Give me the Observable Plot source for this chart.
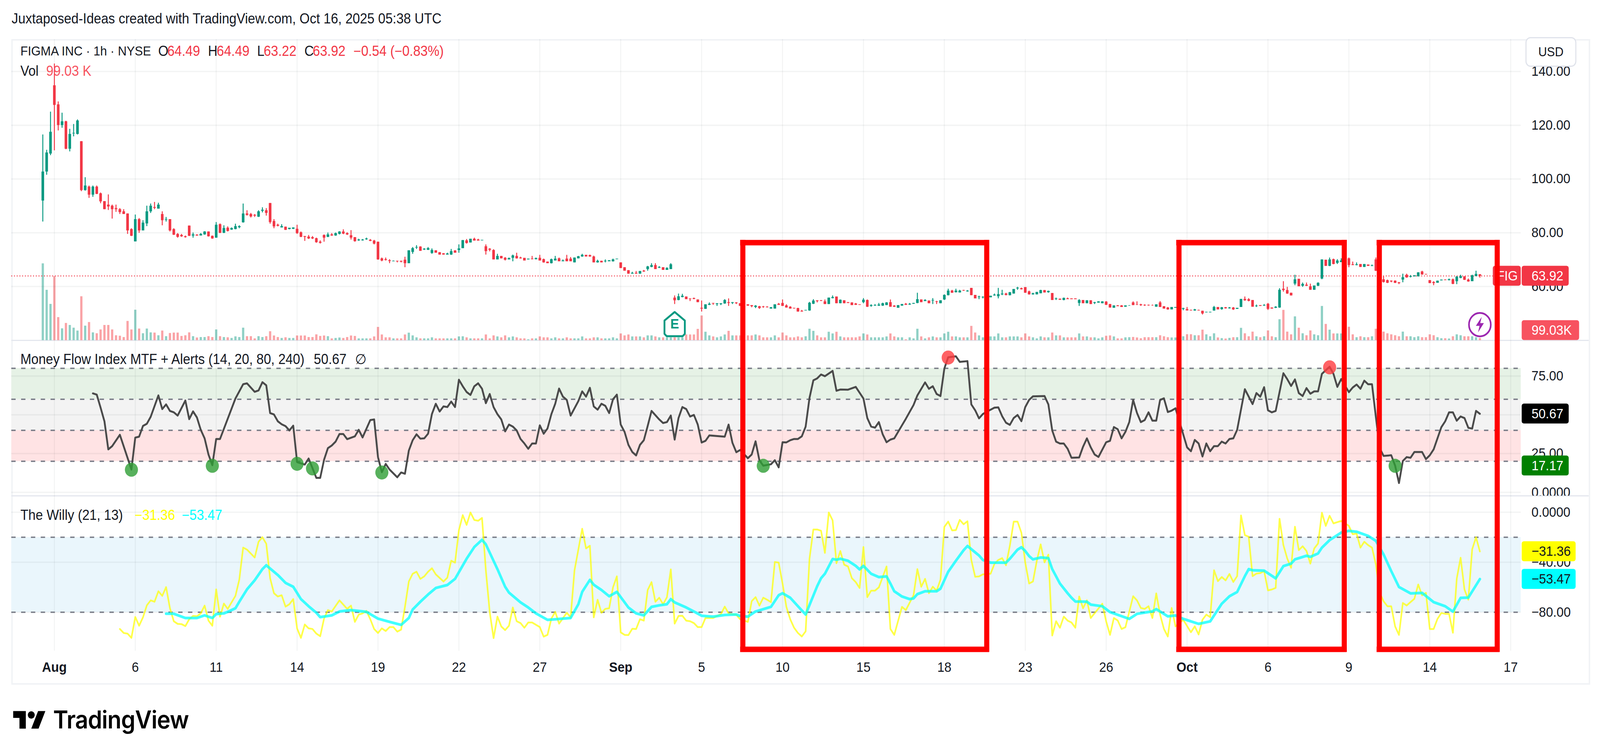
<!DOCTYPE html>
<html>
<head>
<meta charset="utf-8">
<script src="https://cdn.jsdelivr.net/npm/d3@7"></script>
<script src="https://cdn.jsdelivr.net/npm/@observablehq/plot@0.6"></script>
<style>
html,body{margin:0;padding:0;background:#fff;overflow:hidden}
#page{position:absolute;left:0;top:0;width:4400px;height:1933px;overflow:hidden;font-family:"Liberation Sans",Arial,sans-serif;color:#131722;background:#fff;transform-origin:0 0}
#page svg.pane{position:absolute;left:0}
.t{position:absolute;font-size:36px;line-height:44px;white-space:pre}
.chrome{position:absolute}
</style>
</head>
<body>
<div id="page"></div>
<script>
// ---------- candles, one row per hourly bar: open, high, low, close ----------
const ohlcAug = [
[91.9,116.5,84.1,102.7],[102.7,110.8,101.5,109.8],[109.4,125,108.8,117.5],[134.8,142.9,110.6,127.5],[127.7,128.8,118,120],
[120,124.6,119,121.4],[121.4,121.6,111,111.2],[111.2,118.6,110.2,116.7],[116.9,120.4,115.8,117.1],[116.7,122.1,116.5,121.7],
[114,114,95.4,95.8],[95.8,100.6,95.6,97.5],[97.1,97.5,92.9,94.1],[94.1,97.5,93.3,97.1],[97.1,97.5,94.3,94.4],
[94.6,94.9,90.9,91.6],[91.7,91.7,88.7,88.7],[90.4,94.2,88.4,89.7],[90,90.4,85.2,88.7],[89.1,90.4,87.7,88.7],
[88.7,89.1,86.9,87.6],[87.9,88.7,86.9,86.9],[87.1,87.1,79.5,80.8],[81.3,81.6,78.7,78.8],[76.7,86.7,76.7,85],
[85,85.4,79.9,80.8],[80.8,84.6,80.8,83.7],[83.4,90,82.4,87.9],[87.9,90.8,87.3,90],[89.5,91.4,88.7,89.2],
[88.9,91.1,88.9,90.4],[86.9,87.9,82.7,84.6],[84.8,85.8,84.1,85],[85,85,80.4,80.8],[81.3,81.6,79.1,79.2],
[79.5,79.8,78.1,78.4],[79.1,79.5,78.4,78.6],[78.6,78.9,78.1,78.3],[82.6,82.6,78.7,78.8],[78.9,80,78.1,79.3],
[79.2,79.4,78.8,78.9],[78.9,79.8,78.9,79.5],[79.3,80.5,79.2,80.4],[80.4,80.4,78.5,78.6],[78.8,78.9,77.7,77.8],
[78.1,83.9,78.1,82.9],[83.1,83.4,79.8,79.9],[79.9,82.7,79.8,81.7],[81.8,82.3,80.4,80.6],[81.1,81.9,81,81.7],
[81.3,83.3,81.2,82.4],[82,82.7,81.6,82.4],[83.8,90.8,83.7,87.1],[87.1,88.3,86.3,86.6],[86.9,87.3,85.6,86],
[86.6,86.9,85.8,86.3],[85.9,88.3,85.8,87.9],[88.1,89.4,87.5,88.5],[88.3,89.1,86.3,87.3],[91,91,83.3,83.9],
[84.3,85,81.6,82.3],[82.9,83.3,82.3,82.5],[81.9,83.1,81.9,82.4],[82.2,82.2,81,81],[81.3,81.8,81.2,81.8],
[81.4,81.9,81.3,81.9],[81.4,82.9,79.5,79.8],[80.1,80.4,78.3,78.4],[78.7,78.7,76.9,78.4],[78.5,79.1,77.6,77.8],
[78.3,78.7,77.6,77.8],[77.9,78.1,76.2,76.4],[76.6,77.1,75.9,76.2],[79.1,79.3,76.6,78.1],[78.4,80,78.3,79.3],
[79.3,79.8,78.8,78.9],[78.9,80,78.8,79.8],[79.5,80.5,79.3,80.4],[80.4,81.2,79.4,79.6],[79.8,80.1,79.1,79.3],
[79,80.9,77.4,78.1],[78.3,78.3,76.6,76.8],[77.1,77.7,76.9,77.4],[77.1,77.6,77,77.4],[77.5,78.1,77.3,77.8],
[77.3,77.6,76.8,76.9],[77,77.3,75.6,75.9],[76.6,76.6,69.9,70],[70.4,70.7,69.3,69.6],[70.1,70.7,69.6,69.8],
[69.7,70.1,68.6,69.4],[69.3,69.6,69.3,69.5],[69.5,69.5,68.9,69.3],[69.5,69.5,68.9,69.2],[69.9,71,67.1,68.6],
[68.6,73.4,68.6,73.4],[72.8,74.6,72.1,74.2],[74.4,75.3,73.9,74.6],[74.8,74.9,73.2,73.2],[73.7,74.2,73.5,74],
[73.6,74.6,73.5,74.2],[72.4,74.1,72.1,73.5],[73.4,73.4,72.5,72.5],[72.7,72.7,71.8,71.8],[72.3,72.3,71.8,71.8],
[71.8,72.5,71.8,72.2],[71.8,73.9,71.7,73.1],[73.3,73.5,72.5,72.5],[73.5,75.6,72.5,74.1],[74.2,77.2,74.2,77.2],
[77.1,77.6,75.9,76.1],[76.3,77.7,76.3,77.7],[77.7,78.1,77,77],[77.4,77.7,77,77],[77.1,77.3,77.1,77.3],
[74.9,75.6,71.8,73.1],[74,74.2,73,73.6],[73.5,73.8,70,70],[70,72.1,70,71.3],[71.3,71.3,70.4,70.4],
[70.6,70.9,69.6,69.9],[70,70.7,70,70.5],[70.6,71.8,69.3,71.5],[71.3,72.5,70.3,70.4],[70.7,71,70.3,70.4],
[70.6,70.6,69.6,69.6],[70,70.3,70,70.3],[70.3,71.3,70,70.1],[70.1,70.7,70,70.5],[70.6,71.7,69.6,69.6],
[70.1,70.3,68.8,68.9],[69.2,69.2,68.6,68.6],[68.6,70.3,68.5,70.1],[69.6,71.3,69.6,70.3],[70.4,70.7,69.3,69.3],
[69.3,70,69.3,69.6],[70.3,71.7,69.3,69.3],[70.3,70.9,69.3,69.3],[68.9,70.7,68.9,70.7],[70.4,71.3,70.4,71.2],
[71.1,72.1,71,71.7],[71.7,71.7,71.1,71.1],[71.6,71.8,71,71.1],[71.1,71.4,68.9,68.9],[68.9,69.9,68.8,69.5],
[69.5,69.5,68.9,68.9],[69.3,70,68.9,69.5],[69.3,69.7,69.3,69.7],[69.3,70.3,69.2,70],[70.1,70.3,70.1,70.3]
];
const ohlcSep = [
[68.9,68.9,66.8,66.8],[67.1,67.1,65.8,65.8],[66,66,64.7,64.7],[64.7,65.4,64.7,65],[65,65.7,64.7,64.7],
[64.7,65.7,64.7,65.7],[65.8,66.1,65.4,65.5],[66.4,67.6,65.8,67.4],[67.2,68.6,67.1,67.9],[67.9,68.6,66.4,66.4],
[66.9,67.5,66.8,67.2],[67.1,67.1,66.1,66.1],[66.1,67.1,66.1,66.8],[66.4,68.6,66.4,68.2],[55.8,56.6,53.4,54.8],
[54.9,57.3,54.8,56.3],[56,57.2,55.9,56.5],[56.2,56.2,55.2,55.2],[55.5,55.5,54.5,55.3],[55.6,55.8,55.2,55.3],
[55.1,55.1,54.1,54.1],[52,54.7,50.6,51.7],[51.6,53.3,51.6,53.3],[53.1,54,53,53.5],[53.8,53.8,53.1,53.6],
[53.4,53.7,52.7,53.7],[53.4,53.7,53,53.7],[53.6,55.2,53.5,54.9],[54.1,55.5,52.7,53.8],[53.8,54.1,53.4,54.1],
[54,54.1,53.4,53.7],[53.7,53.7,52.7,52.7],[52.8,53.3,52.7,53.2],[53.3,53.3,52.8,52.8],[53,53,52.2,52.6],
[52.3,53,51.9,52.8],[52.6,52.7,51.6,51.9],[52.5,52.7,52,52.3],[52.4,52.6,52.1,52.2],[51.7,52.3,51.7,52.2],
[51.7,53.3,51.7,53.3],[53.5,53.8,53.1,53.1],[53.8,55.1,52.7,52.7],[52.9,53.3,52.1,52.1],[52.4,52.6,51.7,51.7],
[52,52,51.7,51.8],[51.9,52,50.6,50.6],[50.9,51.2,50.6,50.6],[51,51.2,51,51.2],[51,54.2,50.9,53.9],
[53.5,55.2,53.4,54.7],[54.8,54.8,54,54.5],[54.8,54.9,54.5,54.6],[54.4,55.1,53.4,53.4],[53.4,55.8,53.4,55.8],
[55.6,56.6,55.5,56],[56.2,56.2,53.7,53.7],[53.7,55.1,53.7,55],[54.8,54.8,53.7,53.7],[54.1,54.1,53.8,53.8],
[54,54,53,53],[53.6,53.8,53.1,53.1],[53.3,53.3,53.1,53.1],[54.1,55.6,53.7,55],[54.9,55.1,52.3,52.4],
[52.7,53.3,52.4,53],[52.8,53.4,52.7,53],[52.8,53.8,52.7,53.2],[52.8,53.9,52.7,53.7],[53,54.1,53,54],
[54.1,55.1,52.4,52.4],[52.8,53,52.3,52.4],[52,53,52,53],[52.8,53.4,52.8,53.4],[53.5,53.8,53.1,53.1],
[53.2,53.8,53.1,53.5],[53.5,53.8,53.5,53.8],[53.8,57.6,53.7,55.2],[55.1,55.1,54.1,54.1],[54.5,55.2,54.5,54.9],
[54.7,54.7,53.7,53.7],[54.7,55.6,53.4,54.9],[54.4,54.6,53.4,54.2],[53.7,54.8,53.7,54.8],[55.1,57,54.9,56.8],
[56.7,59.1,56.6,58.4],[58.4,58.7,57.6,57.6],[57.8,59.1,57.7,58.4],[57.7,58.7,57.7,58.4],[58.6,58.7,58.3,58.4],
[58.1,58.6,58,58.4],[59.4,59.4,56.7,56.7],[56.8,56.8,55.5,55.5],[56,56.5,55.2,56.2],[55.9,56.3,55.5,56.1],
[56.1,56.6,55.9,56.5],[55.9,56.5,55.9,56.5],[56.6,57.3,56.5,56.9],[56.3,59.4,55.5,57.1],[57,58.7,56.7,57.3],
[57.3,57.6,56.6,56.8],[56.7,57.9,56.6,57.8],[57.3,59,57.3,59],[59.2,59.8,58.7,59.5],[59.3,59.5,58.8,58.9],
[59.7,59.7,57.6,57.6],[58.1,58.4,56.9,57],[57,57.6,56.9,57.4],[57,57.9,57,57.9],[57.4,58.7,57.4,58.6],
[58.6,58.6,57.7,57.7],[57.8,58.4,57.6,58.3],[57.5,57.5,54.9,54.9],[55.3,55.8,54.9,55.5],[55.4,55.4,55,55],
[54.9,55.8,54.8,55.7],[55.5,55.8,55.2,55.2],[55.5,55.5,55.2,55.2],[55.5,55.5,55.2,55.2],[53.8,55.2,52.7,54.9],
[54.9,54.9,53.7,53.7],[53.7,54.8,53.7,54.8],[54.8,54.8,53.4,53.4],[53.8,54.2,53.4,54.1],[53.9,54.4,53.9,54.4],
[53.7,54.4,53.7,54.4],[54.3,54.5,53.1,53.1],[53.4,53.4,52.1,52.1],[52,52.9,52,52.9],[52.9,53,52.6,52.6],
[52.9,53,52.3,52.3],[52.4,52.9,52.4,52.9],[52.8,53,52.8,52.9],[54,54.4,53,53],[53.3,54.4,53,53.2],
[53.3,53.5,52.7,53],[53.1,53.3,52.7,52.9],[53.1,53.2,52.8,52.9],[53,53.2,52.8,52.9],[52.4,53.3,52.4,53.3],
[54,54.5,52.3,52.3],[52.6,52.6,51.7,51.7],[52.1,52.3,51.3,51.4],[51.4,52.3,51.4,52.3],[52,52.3,52,52.3],
[52.2,52.5,52,52.4],[51.6,52,51.1,51.9]
];
const ohlcOct = [
[51.5,52.3,51,51],[51.2,51.3,51,51],[51,51.6,50.9,51.4],[51.2,51.3,51,51],[50.9,50.9,49.5,49.9],
[50.3,50.5,50.3,50.5],[50.3,50.5,50.3,50.5],[51,52.7,50.9,52.3],[52.3,52.3,51.4,51.4],[51.5,52.3,51.3,52.2],
[52.2,52.3,51.7,51.8],[51.8,52.3,51.7,52.1],[52.1,52.3,51.2,51.4],[51.6,52,51.6,52],[52.3,55.3,52.3,55.3],
[55.3,56.2,54.6,54.8],[55.2,55.6,54.4,54.6],[54.9,54.9,52.4,52.4],[52.6,53.2,52.3,52.8],[53,53,52.7,52.7],
[52.8,53.4,52.7,53],[53.5,53.8,51.2,51.6],[52.1,52.1,51.7,51.7],[52,52.6,51.9,52.4],[52.1,59.3,52,58.7],
[59.1,61.9,58,58.6],[58.6,59.8,57.2,57.3],[57.6,57.6,56.6,56.6],[61,64.3,60.4,62.6],[62.8,62.8,60,60],
[60.2,61.4,59.8,60.9],[60.6,61.4,60.1,60.2],[60,61,58.7,58.7],[58.7,60.3,58.7,60.3],[60.2,61.5,60.1,61.3],
[62.9,70,62.6,70],[69.9,69.9,67.6,67.6],[67.6,70.7,67.5,70],[70.1,70.3,68.2,68.3],[68.7,70.1,68.3,69.6],
[69,70.4,69,69.6],[70.2,70.8,69.6,70.4],[70.4,70.7,67.1,67.9],[68.2,69.2,67.9,67.9],[67.9,68.9,67.8,68.2],
[68.3,68.3,67.2,67.2],[67.2,68.3,67.2,68.3],[68.1,68.1,67.6,67.6],[67.6,68.1,67.5,67.8],[70,70.7,65.7,65.8],
[65.8,66,64.2,64.3],[62.6,63.8,61.4,61.6],[62.3,62.5,61.2,61.3],[62.1,62.2,61.5,61.8],[62.1,62.2,61.2,61.3],
[61.5,61.6,60.8,61.2],[62.5,64.7,61.5,63.4],[64.3,64.7,63.2,63.3],[63.5,64.2,63.3,63.8],[63.7,64.1,63.7,64.1],
[63.7,65.2,63.7,65.2],[65.5,65.8,64.3,64.4],[64.6,64.6,64.4,64.4],[62.3,62.3,61.2,61.2],[61.6,61.9,60.4,61.2],
[61.3,62.1,61.3,62.1],[62.2,62.5,62.2,62.5],[62.5,62.6,62.3,62.3],[62.3,62.9,62.2,62.6],[62.6,62.9,60.8,60.9],
[61.9,63.8,60.8,63.6],[63.1,64.3,63,63.8],[63.7,63.7,62.4,62.4],[62.5,62.9,61.7,61.8],[61.9,64.3,61.9,64.1],
[63.8,65.8,63.8,64.6],[64.49,64.49,63.22,63.92]
];
// ---------- volume in thousands, per bar ----------
const volumeK = [
3543,2324,1673,2954,1064,547,795,702,578,444,2025,671,837,361,320,496,702,702,496,227,
207,145,888,496,1405,537,320,537,361,351,227,444,186,331,351,351,196,227,361,186,
124,145,145,186,145,496,186,145,134,103,176,145,578,186,186,83,186,145,186,413,
217,145,103,134,103,103,217,217,217,145,145,269,196,217,186,83,103,124,103,145,
217,196,83,83,84,84,174,612,264,132,132,84,84,84,264,348,222,132,84,84,
84,132,84,84,84,84,84,84,174,180,132,84,84,84,84,264,84,222,174,132,
222,132,174,132,84,84,42,84,84,174,132,132,84,132,84,84,132,84,84,84,
174,84,84,132,132,84,84,84,132,84,312,222,264,174,174,174,132,222,222,174,
132,132,132,132,132,132,132,264,264,264,522,1140,390,222,174,132,174,264,432,222,
222,222,174,222,222,264,222,132,132,132,222,132,354,222,132,132,174,132,180,528,
432,222,132,132,390,312,390,174,132,132,132,132,174,312,264,132,132,132,132,174,
312,174,132,132,42,132,84,528,174,84,132,174,132,132,312,390,174,174,132,132,
132,660,354,222,132,132,174,174,312,132,132,174,174,174,132,312,174,132,84,174,
132,132,354,222,222,132,132,132,132,312,174,174,132,132,84,132,204,222,174,84,
84,132,138,150,126,90,138,138,138,138,228,180,138,126,126,138,180,276,276,228,
228,486,270,180,318,126,96,78,108,138,138,570,318,180,396,180,138,180,450,180,
138,966,1398,396,270,1098,576,318,228,450,270,228,1578,750,486,312,312,312,312,618,
270,138,180,138,138,180,528,450,396,318,270,228,180,396,180,180,138,180,138,138,
270,228,138,90,90,78,180,270,228,180,180,180,138,99.03
];
// ---------- Money Flow Index, [bar, value] at each visible vertex ----------
const mfiLine = [
[13,63.8],[14,63],[15,54.6],[16,45.8],[17,27.7],[18,29.8],[20,37.1],[23,14.7],[24,35.3],[25,35.9],[26,42.8],[27,44.2],[28,48.7],[30,62.5],[31,53.7],[32,56.7],[33,52.5],[34,51.6],[35,49.5],[37,59.2],[38,47.2],[39,52.2],[40,48.3],[41,40.3],[42,34.8],[43,24.4],[44,17.5],[45,34.4],[46,34.4],[50,60.5],[52,69.7],[53,70.3],[55,64.8],[56,65.7],[57,71],[58,69],[59,51.1],[60,50.2],[61,45.8],[62,43.9],[63,42.7],[64,39.9],[65,43],[66,19.5],[68,17.9],[69,21.8],[71,9.3],[72,9.3],[73,21],[74,28.5],[75,30.2],[76,32.7],[77,37.6],[78,37.6],[79,34.3],[81,36.1],[82,40.3],[83,35.4],[85,46.6],[86,47],[87,22.7],[88,13],
[89,18.3],[90,14.7],[92,9.7],[93,12.8],[94,12],[95,26.9],[96,33.6],[97,37.4],[98,34.6],[99,34.8],[100,37.8],[101,50.5],[102,57.1],[103,52.1],[104,55.4],[105,55],[106,58.5],[107,55],[108,72.6],[109,68.4],[110,64.7],[111,62.8],[112,68.4],[113,70.3],[114,66.8],[115,57.5],[116,63.4],[117,55],[118,50.4],[119,47],[120,39.3],[121,43.7],[122,42.4],[123,39.9],[124,34.4],[125,31.5],[126,28.1],[127,31.5],[128,31.5],[129,43.2],[130,37.8],[131,41.2],[132,50.4],[133,57.1],[134,66.9],[135,61.7],[136,59.6],[137,49.5],[139,58.8],[140,65.1],[141,61.7],[142,67.4],[143,55.4],[144,53.3],[145,57.1],[146,55.8],[147,51.1],[148,60],[149,63],[150,43.7],[151,39],[152,30.6],[153,26],[154,23.8],[155,30.6],[156,33.6],[157,42.8],[158,52.5],[160,47],[161,44.7],[162,45.3],[163,49.5],[164,34],[165,47.9],[166,55],[167,53.7],[168,48.9],[169,49.9],[170,43.7],[171,32.1],[172,33.2],[173,36.7],[177,35.9],[178,43.7],[179,31.9],[180,25.9],[181,27.3],
[183,22],[184,24.4],[185,32.9],[186,20.6],[187,17.2],[189,18.1],[190,20.7],[191,16.1],[192,32.3],[193,32.2],[194,33.6],[195,34.4],[196,34.4],[197,36.1],[198,42.4],[199,60.9],[200,72.2],[201,73.5],[202,76],[203,74.9],[205,78.3],[206,65.5],[207,66.3],[209,66.2],[211,68],[213,60.5],[214,47.9],[215,42.4],[216,41.7],[217,45.3],[218,37.4],[219,32.3],[220,34],[221,34.8],[223,43.2],[224,47.4],[226,56.3],[227,62.5],[229,70.9],[230,66.8],[231,68.4],[232,63.4],[233,62.1],[234,79.8],[235,87.1],[237,87.7],[238,84.1],[240,84.6],[241,56.7],[242,52.9],[243,47.7],[244,50.5],[246,53.3],[247,54.6],[248,54.8],[249,49.1],[250,44.9],[251,43.5],[252,47.9],[253,49.9],[254,45.9],[255,55],[256,59.6],[257,61.9],[260,62.1],[261,56.7],[262,39.9],[263,32.7],[264,31.5],[265,31.5],[266,28.1],[267,22.3],[269,22.5],[270,29.4],[271,34.8],
[272,29],[273,24.4],[274,22.8],[276,32.3],[277,33.2],[278,42.1],[279,40.7],[280,34.8],[281,39],[282,45.3],[283,59.6],[284,51.2],[285,45.3],[286,46.6],[287,51.6],[288,46.2],[289,46.2],[290,59.6],[291,60.6],[292,51.8],[293,52.7],[294,54.2],[297,29],[298,26.5],[299,33.8],[300,31.5],[301,23.1],[302,31.5],[303,26.5],[304,29.8],[305,29.8],[306,32.7],[307,31.5],[308,34.4],[309,34.8],[310,40.3],[312,66.5],[313,61.7],[314,56.9],[315,64],[316,61.7],[317,67.8],[318,52.9],[319,51.6],[320,52.5],[322,76.8],[323,73],[324,68.6],[325,72.8],[326,64],[327,62.1],[328,67.2],[329,63.6],[330,65.1],[331,65.1],[332,76.4],[334,81],[335,76.4],[336,68],[337,73],[339,64.6],[340,67.6],[341,69.5],[342,66.8],[343,72],[344,69.7],[345,69.7],[346,48.7],[347,28.5],[348,23.5],[350,23.9],[351,17.2],[352,6],[353,20.2],[354,22.7],[355,22.3],[356,26],[358,26],[359,21.4],[360,23.9],[361,27.7],[363,42],[364,45.8],[365,51.6],[366,51.6],[367,46.2],[368,48.9],[369,47.9],[370,41.6],[371,41.1],[372,52.5],[373,50.67]
];
const mfiBuy = [[23,14.6],[44,17.1],[66,18.4],[70,15.4],[88,12.8],[187,17.1],[351,17.1]];
const mfiSell = [[235,86.9],[334,80.6]];
// ---------- The Willy: fast line and its smoothing, [bar, value] ----------
const willyFast = [
[20,-93.4],[21,-96.6],[22,-97.1],[23,-100.5],[24,-83.8],[25,-90.8],[26,-84.1],[27,-74.5],[28,-70.5],[29,-71.6],[30,-63.2],[31,-66.9],[32,-59.9],[33,-76.8],[34,-87.2],[35,-89.3],[36,-89.5],[37,-91.1],[38,-85.6],[39,-83],[40,-83.2],[41,-80.9],[42,-74.7],[43,-86.7],[44,-90.8],[45,-61.7],[46,-83.5],[47,-73.1],[48,-77.3],[50,-66.9],[51,-53.9],[52,-28.3],[53,-29.9],[55,-36.2],[56,-23.6],[57,-20],[58,-25.2],[59,-52.8],[60,-64.8],[61,-67.4],[62,-66.4],[63,-75.5],[64,-73.6],[65,-69.5],[66,-92.9],[67,-100.5],[68,-89.8],[69,-92.9],[70,-93.4],[71,-97.1],[72,-99.2],[73,-85.1],[74,-78.3],[75,-79.4],[77,-70.5],[79,-77.3],[80,-74.7],[81,-87.7],[82,-81.9],[83,-80.9],[84,-78.9],[85,-85.6],[86,-93.4],[87,-96.6],[88,-92.9],[89,-95],[90,-91.9],[91,-91.9],[92,-95.5],
[93,-93.9],[94,-75.7],[95,-55.4],[96,-49.2],[97,-47.6],[98,-53.3],[99,-51.3],[100,-47.6],[101,-44.8],[102,-49.7],[104,-55.4],[105,-52.3],[106,-38.8],[107,-40.3],[108,-14.3],[109,-2.3],[110,-10.1],[111,-0.2],[112,-6.2],[113,-6.8],[114,-4.6],[115,-46.6],[116,-79.9],[117,-100.7],[118,-83.5],[119,-91.4],[120,-94.3],[121,-90.8],[122,-76.2],[123,-87.2],[124,-88.7],[125,-92.4],[126,-88.2],[127,-88.2],[129,-91.9],[130,-99.5],[131,-98.1],[132,-85.1],[133,-79.7],[134,-89.1],[136,-80.4],[137,-84.1],[138,-46.6],[139,-29.9],[140,-13.2],[141,-28.9],[142,-26.8],[143,-84.1],[144,-70],[145,-80.4],[146,-77.3],[147,-76.8],[148,-60.1],[149,-51.3],[150,-96.1],[151,-98.1],[152,-98.3],[153,-93.2],[154,-93.4],[155,-85.6],[156,-86.7],[157,-62.2],[158,-55.9],[159,-71.6],[160,-68.4],[161,-73.6],[162,-67.9],[163,-45.7],[164,-89.1],[165,-83],[166,-82.8],[167,-86.7],[168,-87.2],[169,-88.7],[170,-91.9],[171,-91.9],[172,-84.6],[174,-84.6],[176,-81.5],[177,-75.5],[178,-81],[180,-82],[181,-85.6],
[183,-87.7],[184,-71.1],[185,-67.9],[186,-74.7],[187,-68.4],[188,-70],[189,-71.9],[190,-39.8],[191,-40.3],[192,-57],[193,-75.7],[194,-85.6],[195,-92.4],[196,-96.6],[197,-99.4],[198,-95.3],[199,-37.2],[200,-13.8],[201,-13.8],[202,-14.8],[203,-32.5],[204,-0.2],[205,-6.5],[206,-40.8],[207,-31],[208,-41.9],[209,-43.4],[210,-52.8],[211,-55.9],[212,-60.6],[213,-27.8],[214,-67.9],[215,-62.7],[216,-62.7],[217,-60.1],[219,-43.4],[220,-93.4],[221,-98.1],[223,-75.7],[224,-78.3],[226,-66.4],[227,-45.5],[228,-59.6],[229,-53.3],[230,-64.8],[231,-59.6],[232,-62.7],[233,-53.9],[234,-11.7],[235,-7.5],[236,-14.5],[237,-14.3],[238,-6.1],[239,-9.6],[240,-7.2],[241,-38.2],[242,-51.6],[243,-51.3],[244,-49.7],[246,-49.2],[247,-41.4],[248,-38.2],[249,-36.7],[250,-42.4],[251,-26.8],[252,-7.5],[253,-7.5],[254,-16.4],[255,-40.3],[256,-57],[257,-55.4],[258,-38.8],[259,-25.7],[260,-40.1],[261,-33.9],[262,-98.6],[263,-87.2],[264,-92.4],[265,-83.5],[266,-86.7],[267,-88.2],[268,-92.4],[269,-67.4],[270,-76.8],[271,-70.5],
[272,-84.6],[275,-73.2],[276,-87.3],[277,-98.1],[278,-84.6],[279,-86.6],[280,-93.4],[281,-92],[283,-67.2],[284,-70.5],[285,-76.6],[286,-77.3],[287,-75.2],[288,-84.6],[289,-64.9],[290,-81.9],[291,-93.4],[292,-99.4],[293,-76.6],[294,-91.3],[296,-86],[298,-96],[299,-91.3],[300,-97.8],[301,-86],[302,-81.9],[303,-83.9],[304,-46.4],[305,-55.1],[306,-51.8],[307,-54.5],[308,-49.4],[309,-55.8],[310,-51.1],[311,-2.6],[312,-18.3],[313,-19.6],[314,-51.1],[315,-49.1],[316,-48.7],[317,-47.1],[318,-62.5],[319,-61.8],[320,-60.5],[321,-5.2],[322,-26.3],[323,-37],[324,-44.4],[325,-11.6],[326,-30.3],[327,-27.2],[328,-31],[329,-41.1],[330,-29],[331,-25],[332,-0.4],[333,-10.9],[334,-2.8],[335,-8.9],[336,-7.9],[337,-6.9],[339,-10.9],[340,-17.6],[341,-17],[342,-28.3],[343,-23.6],[344,-26.3],[345,-28.3],[346,-41.7],[347,-64.5],[348,-71.2],[349,-75.2],[350,-75.2],[351,-91.3],[352,-98.1],[353,-72.6],[354,-74.6],[355,-71.9],[356,-69.2],[357,-57.8],[358,-66.5],[359,-64.5],[360,-93.4],[361,-93.4],[362,-85.3],[363,-80.6],[364,-81.3],[365,-81.3],[366,-96.4],[367,-53.1],[368,-36.4],[369,-61.8],[370,-69.9],[371,-29.7],[372,-20],[373,-31.36]
];
const willySlow = [
[32,-81.2],[34,-81.2],[37,-84.6],[40,-84.6],[42,-82.5],[44,-84.6],[45,-81.5],[47,-80.9],[48,-79.7],[50,-76.8],[51,-71.6],[53,-61.7],[55,-54.4],[57,-45.5],[58,-42.4],[61,-50.2],[63,-56.5],[65,-59.6],[67,-69.5],[69,-75.2],[71,-80.4],[72,-83.9],[75,-82.5],[77,-79.4],[80,-78.3],[84,-79.7],[87,-85.1],[90,-87.7],[93,-90.1],
[95,-84.6],[96,-77.8],[98,-71.6],[100,-65.8],[102,-60.6],[105,-58.2],[107,-53.3],[110,-37.2],[112,-27.8],[114,-22.1],[115,-25.7],[118,-45.5],[120,-59.6],[121,-64.3],[124,-72.1],[126,-76.2],[128,-80.9],[131,-86.1],[133,-85.6],[137,-84.6],[139,-73.6],[140,-63.7],[142,-54.1],[143,-58],[145,-62.2],[147,-67.2],[149,-63.7],[152,-76.2],[154,-80.9],[156,-82.5],[158,-75.7],[160,-74.5],[162,-73.6],[163,-69.5],[164,-72.1],[167,-76.2],[169,-79.4],[171,-82.8],[174,-83.5],[177,-82.2],[180,-81.8],[181,-83],
[183,-83.5],[185,-79.4],[189,-75.7],[191,-66.4],[192,-64.8],[194,-68.4],[196,-75.2],[198,-81.8],[201,-59.1],[202,-52.8],[203,-49.2],[205,-37.4],[206,-38],[207,-37.2],[209,-38.8],[211,-42.9],[212,-45.7],[213,-42.9],[215,-49.2],[217,-51.9],[219,-51.3],[220,-57],[221,-63.2],[223,-67.4],[225,-69.5],[226,-68.9],[227,-65.5],[229,-63.2],[232,-63.2],[233,-61.2],[235,-47.6],[237,-38.8],[239,-30.4],[240,-27],[243,-34.6],[244,-38.2],[246,-40.3],[250,-40.3],[251,-37.2],[253,-29.9],[254,-28],[255,-31],[256,-35.1],[257,-37.7],[259,-36.2],[261,-36.7],[262,-45.5],[264,-57],[266,-64.8],[267,-68.4],[268,-71.4],[271,-71.6],
[272,-73.9],[275,-75.2],[277,-79.9],[282,-85.3],[284,-81.3],[288,-79.3],[289,-77.5],[292,-83.3],[294,-82.6],[296,-85.3],[300,-89.3],[303,-87.3],[306,-73.2],[308,-67.2],[310,-63.8],[312,-51.1],[313,-45.5],[314,-46.4],[317,-46.7],[320,-52.9],[322,-43.1],[324,-41.1],[325,-37.7],[328,-34.8],[329,-35.7],[331,-33],[332,-28.3],[334,-22.3],[337,-16.3],[339,-14.9],[341,-15.6],[344,-18.9],[346,-22.9],[348,-33.7],[350,-47.1],[352,-59.8],[355,-64.9],[358,-64.5],[361,-71.9],[364,-75.2],[366,-79.5],[368,-68.5],[370,-68.3],[373,-53.47]
];
// ---------- axis ticks and annotations ----------
const dayBars = [24,45,66,87,108,129,171,192,213,234,255,276,318,339,360,381];
const dayLabels = ["6","11","14","19","22","27","5","10","15","18","23","26","6","9","14","17"];
const monthBars = [3,150,297];
const monthLabels = ["Aug","Sep","Oct"];
const priceTicks = [60,80,100,120,140];
const mfiTicks = [0,25,50,75];
const willyTicks = [0,-40,-80];
const boxFrom = [181.7,294.9,346.9];
const boxTo = [245,337.8,377.5];
const lastPrice = 63.92, lastMfi = 50.67, mfiFloor = 17.17, lastFast = -31.36, lastSlow = -53.47;

// ---------- build ----------
const bars = [...ohlcAug,...ohlcSep,...ohlcOct].map((r,i)=>({i,o:r[0],h:r[1],l:r[2],c:r[3],v:volumeK[i]}));
const UP="#089981", DOWN="#f23645", INK="#131722", FONT='"Liberation Sans",Arial,sans-serif';
const isUp = d=>d.c>=d.o;
const fmt2 = d=> d===0 ? "0.0000" : d.toFixed(2).replace("-","\u2212");
const common = {
  width:4400, marginLeft:31, marginRight:218,
  x:{domain:[-8.137,383.65],axis:null},
  color:{type:"identity"},
  style:{background:"transparent",overflow:"hidden",fontFamily:FONT,fontSize:"35px",color:INK,maxWidth:"none"}
};
const grid = ()=>[
  Plot.gridX(monthBars.concat(dayBars),{stroke:"#2a2e39",strokeOpacity:0.06,strokeWidth:2.5}),
];
const gridH = t=>Plot.gridY(t,{stroke:"#2a2e39",strokeOpacity:0.055,strokeWidth:3.5});
const yAxis = t=>Plot.axisY({anchor:"right",ticks:t,tickFormat:fmt2,tickSize:0,tickPadding:29,label:null,fill:INK});
const tag = (v,half,x2,fill)=>Plot.rect([v],{x1:383.9,x2,y1:d=>d-half,y2:d=>d+half,fill,rx:6});
const tagText = (v,text,fill)=>Plot.text([v],{x:386.4,y:d=>d,text:()=>text,fill,textAnchor:"start",fontSize:35});
const DASH={stroke:"#787b86",strokeWidth:3.5,strokeDasharray:"12,15"};
const redV = (y1,y2)=>Plot.ruleX(boxFrom.concat(boxTo),{x:d=>d,y1,y2,stroke:"#ff0000",strokeWidth:14});

const houseSym={draw(c,size){const r=Math.sqrt(size/Math.PI),s=r/28;
  c.moveTo(0,-31*s);c.lineTo(28*s,-9*s);c.lineTo(28*s,25*s);c.lineTo(22*s,31*s);c.lineTo(-22*s,31*s);c.lineTo(-28*s,25*s);c.lineTo(-28*s,-9*s);c.closePath();}};
const boltSym={draw(c,size){const r=Math.sqrt(size/Math.PI),s=r/20;
  c.moveTo(5*s,-20*s);c.lineTo(-11*s,3*s);c.lineTo(-1*s,3*s);c.lineTo(-5*s,20*s);c.lineTo(11*s,-4*s);c.lineTo(1*s,-4*s);c.closePath();}};

const volumePlot = Plot.plot({...common,height:871,marginTop:100,marginBottom:0,
  y:{domain:[0,15678],range:[871,0],axis:null},
  marks:[
    Plot.ruleX(bars,{x:"i",y1:0,y2:"v",stroke:d=>isUp(d)?"#8fd0c5":"#faa3a6",strokeWidth:6.2})
  ]});
const pricePlot = Plot.plot({...common,height:871,marginTop:100,marginBottom:0,
  y:{domain:[166.54,39.94],range:[0,871],axis:null},
  marks:[
    ...grid(),gridH(priceTicks),
    yAxis(priceTicks),
    Plot.ruleY([lastPrice],{x1:-8.137,x2:376.4,stroke:DOWN,strokeWidth:2.5,strokeDasharray:"2.5,5"}),
    Plot.ruleX(bars,{x:"i",y1:"l",y2:"h",stroke:d=>isUp(d)?UP:DOWN,strokeWidth:2.6}),
    Plot.ruleX(bars,{x:"i",y1:"o",y2:"c",stroke:d=>isUp(d)?UP:DOWN,strokeWidth:7.2}),
    Plot.dot([46],{x:()=>164,y:d=>d,r:28,symbol:houseSym,fill:"white",stroke:UP,strokeWidth:5,strokeLinejoin:"round"}),
    Plot.text(["E"],{x:()=>164,y:()=>46,text:d=>d,fill:UP,fontWeight:"bold",fontSize:36}),
    Plot.dot([45.8],{x:()=>373,y:d=>d,r:30,fill:"white",stroke:"#9c27b0",strokeWidth:4.5}),
    Plot.dot([45.8],{x:()=>373,y:d=>d,r:20,symbol:boltSym,fill:"#9c27b0"}),
    Plot.rect([lastPrice],{x1:376.4,x2:383.65,y1:d=>d-3.7,y2:d=>d+3.7,fill:DOWN,rx:6}),
    Plot.text(["FIG"],{x:()=>380.1,y:()=>lastPrice,text:d=>d,fill:"white",fontSize:35}),
    tag(lastPrice,3.7,396.1,DOWN),
    tagText(lastPrice,"63.92","white"),
    tag(43.7,3.7,398.8,"#f7525f"),
    tagText(43.7,"99.03K","white"),
    redV(77.3,39.94),
    Plot.ruleY(boxFrom.map((f,k)=>({f,t:boxTo[k]})),{y:()=>76.3,x1:d=>d.f-0.66,x2:d=>d.t+0.66,stroke:"#ff0000",strokeWidth:14})
  ]});
const mfiPlot = Plot.plot({...common,height:398,marginTop:0,marginBottom:0,
  y:{domain:[97.98,-2.27],range:[0,398],axis:null},
  marks:[
    Plot.rectY([0],{y1:60,y2:80,fill:"#e6f2e6"}),
    Plot.rectY([0],{y1:40,y2:60,fill:"#f3f3f3"}),
    Plot.rectY([0],{y1:20,y2:40,fill:"#ffe3e4"}),
    ...grid(),gridH(mfiTicks),
    Plot.ruleY([80,60,40,20],DASH),
    yAxis(mfiTicks),
    Plot.line(mfiLine,{x:d=>d[0],y:d=>d[1],stroke:"#4a4a4a",strokeWidth:5,strokeLinejoin:"round"}),
    Plot.dot(mfiBuy,{x:d=>d[0],y:d=>d[1],r:18,fill:"#2e9e34",fillOpacity:0.8}),
    Plot.dot(mfiSell,{x:d=>d[0],y:d=>d[1],r:18,fill:"#ff3b3f",fillOpacity:0.8}),
    tag(lastMfi,6.42,396.1,"#000000"),
    tagText(lastMfi,"50.67","white"),
    tag(mfiFloor,6.42,396.1,"#008000"),
    tagText(mfiFloor,"17.17","white"),
    redV(97.98,-2.27)
  ]});
const willyPlot = Plot.plot({...common,height:664,marginTop:0,marginBottom:267,
  y:{domain:[13.125,-194.375],range:[0,664],axis:null},
  marks:[
    Plot.rectY([0],{y1:-80,y2:-20,fill:"#eaf6fc"}),
    ...grid(),gridH(willyTicks),
    Plot.ruleY([-20,-80],DASH),
    yAxis(willyTicks),
    Plot.axisX({anchor:"bottom",ticks:dayBars,tickFormat:d=>dayLabels[dayBars.indexOf(d)],tickSize:0,tickPadding:29,label:null,fill:INK}),
    Plot.axisX({anchor:"bottom",ticks:monthBars,tickFormat:d=>monthLabels[monthBars.indexOf(d)],tickSize:0,tickPadding:29,label:null,fill:INK,fontWeight:"bold"}),
    Plot.line(willyFast,{x:d=>d[0],y:d=>d[1],stroke:"#ffff00",strokeOpacity:0.72,strokeWidth:4.5,strokeLinejoin:"round"}),
    Plot.line(willySlow,{x:d=>d[0],y:d=>d[1],stroke:"#00ffff",strokeOpacity:0.75,strokeWidth:7,strokeLinejoin:"round"}),
    tag(lastFast,8,397.9,"#ffff00"),
    tagText(lastFast,"\u221231.36",INK),
    tag(lastSlow,8,397.9,"#00ffff"),
    tagText(lastSlow,"\u221253.47",INK),
    redV(13.125,-111.9),
    Plot.ruleY(boxFrom.map((f,k)=>({f,t:boxTo[k]})),{y:()=>-109.7,x1:d=>d.f-0.66,x2:d=>d.t+0.66,stroke:"#ff0000",strokeWidth:14})
  ]});

// ---------- page: laid out on the reference's 4400 width, fitted to the window's own width ----------
const page=document.getElementById("page");
page.style.transform=`scale(${Math.min(1,window.innerWidth/4400)},1)`;
function box(css){const d=document.createElement("div");d.className="chrome";d.style.cssText=css;page.appendChild(d);return d;}
function txt(s,left,cy,color,extra){const d=document.createElement("div");d.className="t";d.textContent=s;
  d.style.cssText=`left:${left}px;top:${cy-22}px;color:${color||INK};${extra||""}`;page.appendChild(d);return d;}
box("left:31px;top:100px;width:4334px;height:1645px;border:4px solid #f1f3f6;box-sizing:content-box");
box("left:31px;top:870px;width:4338px;height:3px;background:#e4e7ee");
box("left:31px;top:1268px;width:4338px;height:3px;background:#e4e7ee");
function place(p,top){p.classList.add("pane");p.style.top=top+"px";p.style.height=p.getAttribute("height")+"px";p.style.width="4400px";page.appendChild(p);}
place(volumePlot,0);place(pricePlot,0);place(mfiPlot,871);place(willyPlot,1269);

txt("Juxtaposed-Ideas created with TradingView.com, Oct 16, 2025 05:38 UTC",32,48);
txt("FIGMA INC \u00b7 1h \u00b7 NYSE",56,131,INK,"font-size:33.5px");
[["O",435],["H",572],["L",707],["C",837]].forEach(a=>txt(a[0],a[1],131));
[["64.49",460],["64.49",596],["63.22",725],["63.92",860],["\u22120.54 (\u22120.83%)",972]].forEach(a=>txt(a[0],a[1],131,DOWN));
txt("Vol",56,182);txt("99.03 K",127,182,"#f7525f");
txt("Money Flow Index MTF + Alerts (14, 20, 80, 240)",56,920);txt("50.67",863,920);txt("\u2205",977,920);
txt("The Willy (21, 13)",56,1319);txt("\u221231.36",370,1319,"#ffff00");txt("\u221253.47",500,1319,"#00ffff");

const usd=box("left:4195px;top:95px;width:140px;height:76px;background:#fff;border:3px solid #e0e3eb;border-radius:14px;box-sizing:border-box;text-align:center;font-size:33px;line-height:70px;color:#131722");
usd.textContent="USD";

const logo=box("left:36px;top:1818px;width:90px;height:48px");
logo.innerHTML='<svg width="90" height="48" viewBox="0 0 36 19.2"><path fill="#000" d="M14 19H7V8H0V1h14zM28 19h-8L27.500 1h8z"/><circle cx="20" cy="5" r="3.800" fill="#000"/></svg>';
txt("TradingView",146,1842,"#000",'font-family:Inter,"Liberation Sans",sans-serif;font-weight:600;font-size:63px;letter-spacing:-1px;line-height:44px');
</script>
</body>
</html>
